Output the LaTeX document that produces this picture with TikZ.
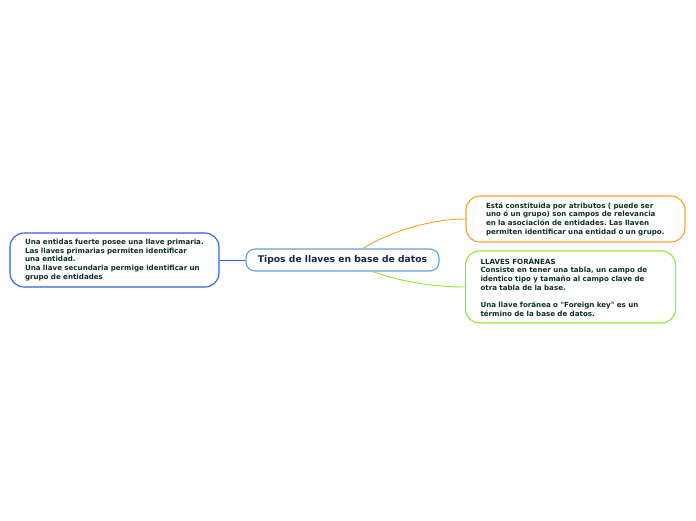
\documentclass[tikz,border=0pt]{standalone}
\usepackage{fontspec}
\setmainfont{DejaVu Sans}
\frenchspacing
\definecolor{cblue}{RGB}{45,95,235}
\definecolor{corange}{RGB}{250,160,45}
\definecolor{cgreen}{RGB}{145,232,50}
\definecolor{ccentral}{RGB}{95,160,220}
\definecolor{ctext}{RGB}{15,50,35}
\definecolor{cnavy}{RGB}{25,40,80}
\begin{document}
\begin{tikzpicture}[x=1pt,y=-1pt,
  box/.style={draw, rounded corners=14pt, line width=1.1pt, fill=white, align=left,
    font=\frenchspacing\bfseries\fontsize{7.1}{8.7}\selectfont, text=ctext, inner ysep=0pt},
  link/.style={line width=0.9pt}]
\useasboundingbox (0,0) rectangle (696,520);
\node[box, draw=ccentral, rounded corners=9pt, minimum width=193pt, minimum height=22pt,
  align=center, text=cnavy, font=\bfseries\fontsize{9.2}{11}\selectfont] (c) at (342.5,260) {Tipos de llaves en base de datos};
\node[box, draw=cblue, minimum width=209pt, minimum height=54pt, inner xsep=15pt, text width=179pt] (l) at (114.5,260)
 {Una entidas fuerte posee una llave primaria.\\Las llaves primarias permiten identificar\\una entidad.\\Una llave secundaria permige identificar un\\grupo de entidades};
\node[box, draw=corange, minimum width=219pt, minimum height=46pt, inner xsep=20pt, text width=179pt] (o) at (575.5,219)
 {Está constituida por atributos ( puede ser\\uno ó un grupo) son campos de relevancia\\en la asociación de entidades. Las llaven\\permiten identificar una entidad o un grupo.};
\node[box, draw=cgreen, minimum width=210pt, minimum height=72pt, inner xsep=15pt, text width=180pt] (g) at (570.5,287)
 {LLAVES FORÁNEAS\\Consiste en tener una tabla, un campo de\\identico tipo y tamaño al campo clave de\\otra tabla de la base.\\[8.7pt]Una llave foránea o \textquotedbl Foreign key\textquotedbl{} es un\\término de la base de datos.};
\draw[link, cblue] (c.west) -- (l.east);
\draw[link, corange] ([xshift=20pt]c.north) .. controls (390,232) and (430,219) .. (o.west);
\draw[link, cgreen] ([xshift=30pt]c.south) .. controls (400,281) and (430,287) .. (g.west);
\end{tikzpicture}
\end{document}
